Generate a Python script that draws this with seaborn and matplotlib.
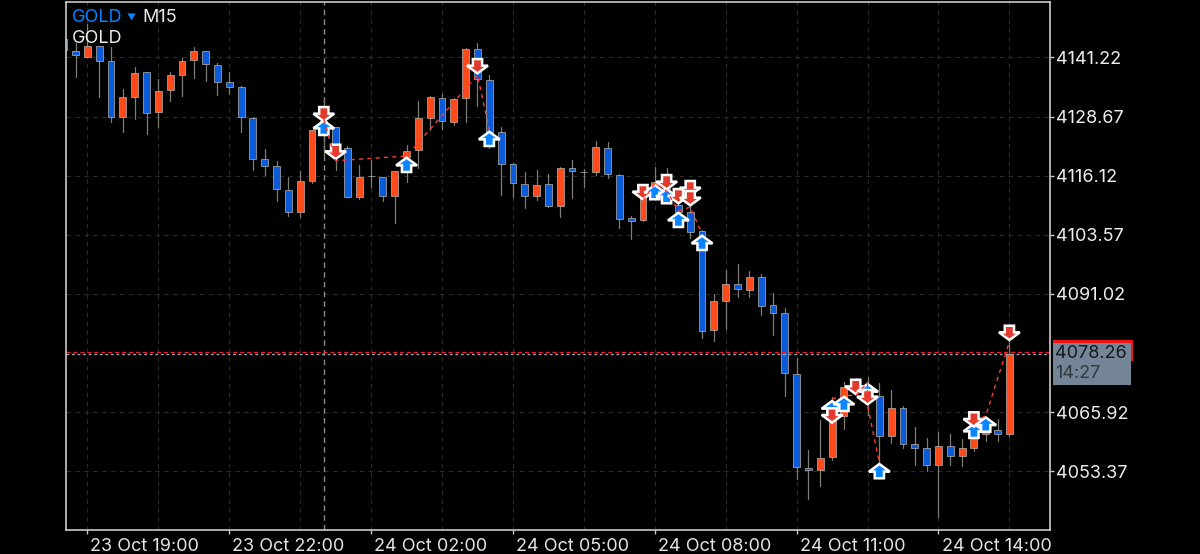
import matplotlib
matplotlib.use("Agg")
import matplotlib.pyplot as plt
import matplotlib.transforms as mtrans
from matplotlib.path import Path
from matplotlib.patches import Rectangle
import numpy as np
import pandas as pd
import seaborn as sns

# M15 candles, first one is cut by the left edge of the frame
opens = [4145.1, 4142.64, 4141.37, 4143.58, 4140.39, 4128.50, 4132.75, 4138.06, 4129.63, 4134.23, 4137.55, 4140.61,
         4142.52, 4139.67, 4136.06, 4134.87, 4128.42, 4119.58, 4118.10, 4113.13, 4108.33, 4114.97, 4125.80, 4126.38,
         4121.92, 4111.51, 4116.04, 4115.76, 4111.79, 4120.07, 4121.49, 4128.35, 4132.66, 4127.57, 4132.54, 4142.94,
         4136.36, 4125.44, 4118.52, 4114.34, 4111.79, 4114.27, 4109.60, 4117.74, 4116.89, 4116.89, 4122.05, 4116.25,
         4107.05, 4106.63, 4111.58, 4114.55, 4109.88, 4108.45, 4104.36, 4083.33, 4089.55, 4093.17, 4091.76, 4094.59,
         4088.64, 4086.88, 4073.99, 4054.03, 4053.67, 4056.43, 4065.13, 4070.17, 4071.65, 4069.38, 4060.76, 4066.71,
         4059.06, 4058.21, 4054.67, 4058.64, 4056.52, 4058.28, 4061.31, 4062.04, 4061.25]
highs = [4146.0, 4144.28, 4148.31, 4143.64, 4143.49, 4134.45, 4139.12, 4138.12, 4136.63, 4138.12, 4141.16, 4143.43,
         4142.64, 4139.97, 4138.06, 4135.15, 4128.50, 4121.71, 4119.16, 4115.82, 4117.10, 4125.80, 4132.32, 4126.44,
         4122.34, 4118.31, 4119.43, 4115.82, 4117.10, 4122.62, 4132.03, 4132.96, 4133.51, 4132.60, 4143.15, 4144.34,
         4137.42, 4126.38, 4118.86, 4116.89, 4117.25, 4116.46, 4117.88, 4119.50, 4117.46, 4123.40, 4123.19, 4116.40,
         4107.54, 4113.06, 4117.88, 4117.74, 4113.06, 4112.00, 4104.57, 4090.98, 4096.07, 4097.28, 4095.86, 4095.23,
         4091.13, 4087.94, 4077.45, 4057.85, 4064.22, 4069.17, 4072.36, 4073.08, 4073.42, 4072.02, 4070.59, 4067.26,
         4062.80, 4060.34, 4061.61, 4061.19, 4060.12, 4063.16, 4064.22, 4064.43, 4081.21]
lows = [4141.0, 4137.12, 4141.31, 4132.75, 4127.57, 4125.32, 4128.14, 4124.89, 4126.51, 4132.03, 4133.09, 4136.91,
        4136.27, 4133.30, 4133.45, 4125.44, 4117.31, 4116.25, 4110.73, 4107.54, 4107.33, 4114.61, 4120.28, 4117.31,
        4111.58, 4111.22, 4113.76, 4110.73, 4105.99, 4114.76, 4117.80, 4125.80, 4126.08, 4126.93, 4127.57, 4130.90,
        4121.92, 4111.94, 4111.51, 4109.30, 4110.94, 4109.39, 4107.39, 4111.43, 4113.76, 4116.25, 4115.68, 4105.00,
        4102.59, 4106.57, 4111.15, 4110.30, 4107.76, 4102.81, 4081.57, 4081.06, 4083.48, 4090.28, 4090.28, 4086.52,
        4082.21, 4069.32, 4051.76, 4047.39, 4050.27, 4055.73, 4062.31, 4069.74, 4065.29, 4055.09, 4059.40, 4058.34,
        4054.67, 4053.39, 4043.69, 4054.67, 4054.52, 4057.64, 4059.76, 4059.76, 4060.89]
closes = [4142.8, 4141.79, 4143.58, 4140.52, 4128.50, 4132.75, 4137.97, 4129.48, 4134.15, 4137.48, 4140.52, 4142.58,
          4139.82, 4135.93, 4135.00, 4128.50, 4119.71, 4118.22, 4113.21, 4108.33, 4114.91, 4125.74, 4127.72, 4121.98,
          4111.64, 4115.89, 4116.00, 4111.79, 4117.03, 4121.41, 4128.29, 4132.75, 4127.65, 4132.45, 4142.94, 4136.57,
          4125.44, 4118.65, 4114.49, 4111.79, 4114.19, 4109.60, 4117.74, 4117.10, 4116.85, 4122.13, 4116.40, 4106.84,
          4106.48, 4112.00, 4114.83, 4110.94, 4108.39, 4104.21, 4083.19, 4089.43, 4093.10, 4091.98, 4094.59, 4088.43,
          4086.94, 4074.14, 4054.24, 4053.67, 4056.22, 4066.35, 4071.29, 4071.65, 4068.47, 4060.76, 4066.71, 4059.19,
          4058.34, 4054.67, 4058.64, 4056.52, 4058.28, 4060.34, 4061.95, 4061.25, 4078.18]

# trades drawn on the chart, in time order
trade_bars = [21, 21, 22, 28, 34, 35, 48, 49, 50, 50, 51, 51, 52, 52, 53, 64, 64, 65, 66, 67, 67, 68, 76, 76, 77, 79]
trade_prices = [4127.29, 4128.14, 4119.29, 4120.28, 4137.48, 4125.80, 4110.73, 4114.49, 4113.64, 4112.85, 4108.60,
                4109.88, 4111.58, 4109.45, 4103.72, 4068.62, 4063.31, 4069.53, 4069.38, 4072.23, 4067.20, 4055.24,
                4063.80, 4062.46, 4065.13, 4080.85]
trade_sides = ["sell", "buy", "sell", "buy", "sell", "buy", "sell", "buy", "buy", "sell", "buy", "sell", "sell", "sell",
               "buy", "buy", "sell", "buy", "sell", "buy", "sell", "buy", "buy", "sell", "buy", "sell"]

# dashed links between trades
link_groups = ["a"] * 5 + ["b"] * 6 + ["c"] * 6 + ["d"] * 3
link_bars = [21, 22, 28, 34, 35, 48, 49, 50, 51, 52, 53, 64, 65, 66, 67, 67, 68, 76, 77, 79]
link_prices = [4128.14, 4119.29, 4120.28, 4137.48, 4125.80, 4110.73, 4114.49, 4112.85, 4108.60, 4109.45, 4103.72,
               4068.62, 4069.53, 4069.38, 4072.23, 4067.20, 4055.24, 4063.80, 4065.13, 4080.85]

price_ticks = [4141.22, 4128.67, 4116.12, 4103.57, 4091.02, 4065.92, 4053.37]
time_tick_bars = [1, 13, 25, 37, 49, 61, 73]
time_labels = ["23 Oct 19:00", "23 Oct 22:00", "24 Oct 02:00", "24 Oct 05:00", "24 Oct 08:00", "24 Oct 11:00",
               "24 Oct 14:00"]
grid_bars = [1, 7, 13, 19, 25, 31, 37, 43, 49, 55, 61, 67, 73, 79]
bid_price = 4078.26
ask_price = 4078.76
crosshair_bar = 21

ORANGE = "#ff4a1c"
BLUE = "#0b5bd8"
FONT = ["Inter", "DejaVu Sans"]

sns.set_theme(style="dark", rc={
    "figure.facecolor": "black",
    "axes.facecolor": "black",
    "axes.edgecolor": "#c9c9c9",
    "axes.linewidth": 1.2,
    "xtick.color": "#c9c9c9",
    "ytick.color": "#c9c9c9",
    "text.color": "#ededed",
})
plt.rcParams["font.family"] = FONT

fig = plt.figure(figsize=(12, 5.54), dpi=100)
ax = fig.add_axes([66 / 1200, (554 - 529.5) / 554, 984 / 1200, 527.5 / 554])

candles = pd.DataFrame({"open": opens, "high": highs, "low": lows, "close": closes})
candles["bar"] = np.arange(len(candles)) - 1
candles["up"] = candles["close"] >= candles["open"]

# grid first, everything else on top
ax.set_xticks(grid_bars, minor=True)
ax.set_yticks(price_ticks)
ax.grid(True, which="both", color="#2b2b2b", linestyle=(0, (4, 4)), linewidth=0.8)
ax.set_axisbelow(True)
ax.axvline(crosshair_bar, color="#8a8a8a", linestyle=(0, (4, 3)), linewidth=1.0, zorder=1)

wicks = candles.melt(id_vars="bar", value_vars=["low", "high"], value_name="price")
sns.lineplot(data=wicks, x="bar", y="price", units="bar", estimator=None, sort=False, color="#7d7d74",
             linewidth=0.9, ax=ax, zorder=2)

ax.bar(candles["bar"], candles["close"] - candles["open"], bottom=candles["open"], width=0.58,
       color=[ORANGE if u else BLUE for u in candles["up"]], edgecolor="#b9b4ae", linewidth=0.5, zorder=3)

ax.axhline(ask_price, color="#e8202a", linestyle=(0, (3, 2)), linewidth=1.0, zorder=4)
ax.axhline(bid_price, color="#9aa3ad", linestyle=(0, (2, 2)), linewidth=1.0, zorder=4)

# arrow outlines end about on the price, the white edge takes the rest
up_arrow = Path([(0, -1.5), (9.5, -8.5), (4.2, -8.5), (4.2, -14.5), (-4.2, -14.5), (-4.2, -8.5), (-9.5, -8.5), (0, -1.5)],
                closed=True)
down_arrow = Path([(0, 1.5), (9.5, 8.5), (4.2, 8.5), (4.2, 14.5), (-4.2, 14.5), (-4.2, 8.5), (-9.5, 8.5), (0, 1.5)],
                  closed=True)
trades = pd.DataFrame({"bar": trade_bars, "price": trade_prices, "side": trade_sides})
sns.scatterplot(data=trades, x="bar", y="price", hue="side", style="side",
                palette={"buy": "#0a84ff", "sell": "#e23b2e"}, markers={"buy": up_arrow, "sell": down_arrow},
                s=530, edgecolor="white", linewidth=1.8, joinstyle="miter", legend=False, ax=ax, zorder=5,
                clip_on=False)

links = pd.DataFrame({"group": link_groups, "bar": link_bars, "price": link_prices})
sns.lineplot(data=links, x="bar", y="price", units="group", estimator=None, sort=False, color="#ff3b30",
             linewidth=1.0, linestyle=(0, (3, 3)), ax=ax, zorder=6)

ax.set_xlim((66 - 75.6) / 11.82, (1050 - 75.6) / 11.82)
ax.set_ylim(4040.97, 4152.99)
ax.set_xlabel("")
ax.set_ylabel("")

ax.yaxis.tick_right()
ax.set_yticklabels([f"{p:.2f}" for p in price_ticks], fontsize=13, color="#ededed")
ax.set_xticks(time_tick_bars)
ax.set_xticklabels(time_labels, fontsize=13, color="#e4e4e4", ha="left")
ax.tick_params(axis="x", which="major", length=3, width=1, pad=3, bottom=True)
ax.tick_params(axis="x", which="minor", length=0)
ax.tick_params(axis="y", which="major", length=3, width=1, pad=1, right=True, left=False)
shift = mtrans.ScaledTranslation(2.2 / 72, 0, fig.dpi_scale_trans)
for lab in ax.get_xticklabels():
    lab.set_transform(lab.get_transform() + shift)
for side in ["top", "bottom", "left", "right"]:
    ax.spines[side].set_visible(True)
    ax.spines[side].set_zorder(7)

def px(x, y):
    return x / 1200, 1 - y / 554

# current price box
for (x0, y0, x1, y1), col in [((1052.5, 339.5, 1132.5, 360.5), "#f01414"),
                              ((1052.5, 343.2, 1130.5, 385), "#748597")]:
    fig.add_artist(Rectangle(px(x0, y1), (x1 - x0) / 1200, (y1 - y0) / 554, transform=fig.transFigure,
                             facecolor=col, edgecolor="none"))
fig.text(*px(1055, 354), "4078.26", fontsize=13, color="#15181c", va="center", ha="left")
fig.text(*px(1055, 373), "14:27", fontsize=13, color="#343a42", va="center", ha="left")

# header
fig.text(*px(72, 18), "GOLD", fontsize=13, color="#0a84ff", va="center", ha="left")
fig.text(*px(127, 18), "\u25BC", fontsize=6.5, color="#0a84ff", va="center", ha="left")
fig.text(*px(142, 18), "M15", fontsize=13, color="#e8e8e8", va="center", ha="left")
fig.text(*px(72, 38.5), "GOLD", fontsize=13, color="#ededed", va="center", ha="left")

fig.savefig("out.png", dpi=100, facecolor="black")
